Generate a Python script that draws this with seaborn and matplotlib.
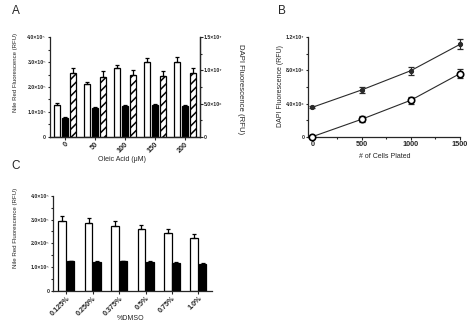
import numpy as np
import pandas as pd
import matplotlib
matplotlib.use("Agg")
import matplotlib.pyplot as plt
from matplotlib.ticker import FixedLocator, MultipleLocator
import seaborn as sns

# ---- Panel A: oleic acid titration ----
oleic_labels = ["0", "50", "100", "150", "200"]
nile_red = [1.29e5, 2.12e5, 2.77e5, 3.01e5, 3.02e5]
nile_red_sd = [0.05e5, 0.10e5, 0.13e5, 0.16e5, 0.17e5]
blank = [0.74e5, 1.16e5, 1.22e5, 1.26e5, 1.24e5]
blank_sd = [0.04e5, 0.04e5, 0.04e5, 0.04e5, 0.04e5]
dapi = [9.57e6, 9.02e6, 9.27e6, 9.10e6, 9.57e6]
dapi_sd = [0.83e6, 0.85e6, 0.83e6, 0.80e6, 0.83e6]

# ---- Panel B: DAPI signal vs cell number ----
cells_plated = [0, 500, 1000, 1500]
dapi_upper = [3.55e6, 5.64e6, 7.97e6, 11.15e6]
dapi_upper_sd = [0.12e6, 0.42e6, 0.50e6, 0.60e6]
dapi_lower = [0.0, 2.10e6, 4.40e6, 7.62e6]
dapi_lower_sd = [0.10e6, 0.35e6, 0.45e6, 0.50e6]

# ---- Panel C: DMSO tolerance ----
dmso_labels = ["0.125%", "0.250%", "0.375%", "0.5%", "0.75%", "1.0%"]
dmso_nile_red = [2.93e5, 2.84e5, 2.72e5, 2.62e5, 2.42e5, 2.21e5]
dmso_nile_red_sd = [0.22e5, 0.21e5, 0.21e5, 0.17e5, 0.18e5, 0.17e5]
dmso_blank = [1.24e5, 1.22e5, 1.24e5, 1.22e5, 1.19e5, 1.15e5]
dmso_blank_sd = [0.03e5, 0.03e5, 0.03e5, 0.03e5, 0.03e5, 0.03e5]

# axis tick labels
nr_ticks = [0, 1e5, 2e5, 3e5, 4e5]
nr_ticklabels = ["0", "1.0×10⁵", "2.0×10⁵", "3.0×10⁵", "4.0×10⁵"]
dapi_ticks = [0, 5e6, 1e7, 1.5e7]
dapi_ticklabels = ["0", "5.0×10⁶", "1.0×10⁷", "1.5×10⁷"]
cells_yticks = [0, 4e6, 8e6, 1.2e7]
cells_yticklabels = ["0", "4.0×10⁶", "8.0×10⁶", "1.2×10⁷"]
cells_xticks = [0, 500, 1000, 1500]
cells_xticklabels = ["0", "500", "1000", "1500"]

sns.set_theme(style="ticks")
plt.rcParams["font.family"] = ["Liberation Sans", "DejaVu Sans"]
plt.rcParams["hatch.linewidth"] = 1.1
plt.rcParams["axes.linewidth"] = 0.9
plt.rcParams["xtick.major.width"] = 0.8
plt.rcParams["ytick.major.width"] = 0.8
plt.rcParams["xtick.minor.width"] = 0.8
plt.rcParams["ytick.minor.width"] = 0.8
plt.rcParams["xtick.major.size"] = 1.8
plt.rcParams["ytick.major.size"] = 1.8
plt.rcParams["xtick.minor.size"] = 1.2
plt.rcParams["ytick.minor.size"] = 1.2
plt.rcParams["xtick.major.pad"] = 1.2
plt.rcParams["ytick.major.pad"] = 1.0

W, H = 474, 332
fig = plt.figure(figsize=(W / 100, H / 100), dpi=100)
fig.patch.set_facecolor("white")


def rect(left, top, right, bottom):
    return [left / W, 1 - bottom / H, (right - left) / W, (bottom - top) / H]


def ptxt(x, y, s, **kw):
    fig.text(x / W, 1 - y / H, s, **kw)


YTICK_FS = 3.7
XTICK_FS = 5.2
LABEL_FS = 5.0
EDGE = "black"

hue_order = ["Nile Red", "Blank", "DAPI"]
palette = {"Nile Red": "white", "Blank": "black", "DAPI": "white"}


def bar_groups(ax):
    return [c for c in ax.containers if len(c) > 0]


def add_up_errors(ax, container, sd):
    xs = [b.get_x() + b.get_width() / 2 for b in container]
    ys = [b.get_height() for b in container]
    ax.errorbar(xs, ys, yerr=[np.zeros(len(sd)), sd], fmt="none",
                ecolor="black", elinewidth=0.9, capsize=1.6, capthick=0.9,
                zorder=1)


def style_yaxis(ax, ticks, labels, lim, minor):
    ax.set_ylim(*lim)
    ax.yaxis.set_major_locator(FixedLocator(ticks))
    ax.set_yticklabels(labels, fontsize=YTICK_FS, fontweight="bold")
    ax.yaxis.set_minor_locator(MultipleLocator(minor))


# ================= Panel A =================
axA = fig.add_axes(rect(50, 37.3, 200, 136.7))
axA2 = axA.twinx()

dfA = pd.DataFrame({
    "conc": oleic_labels * 2,
    "value": nile_red + blank,
    "series": ["Nile Red"] * len(oleic_labels) + ["Blank"] * len(oleic_labels),
})
sns.barplot(data=dfA, x="conc", y="value", hue="series", hue_order=hue_order,
            order=oleic_labels, palette=palette, width=0.8, gap=0.18,
            dodge=True, saturation=1, edgecolor=EDGE, linewidth=0.9,
            errorbar=None, legend=False, ax=axA)

dfA2 = pd.DataFrame({"conc": oleic_labels, "value": dapi,
                     "series": ["DAPI"] * len(oleic_labels)})
sns.barplot(data=dfA2, x="conc", y="value", hue="series", hue_order=hue_order,
            order=oleic_labels, palette=palette, width=0.8, gap=0.18,
            dodge=True, saturation=1, edgecolor=EDGE, linewidth=0.9,
            errorbar=None, legend=False, ax=axA2)
for bar in axA2.patches:
    bar.set_hatch("////")

groupsA = bar_groups(axA)
add_up_errors(axA, groupsA[0], nile_red_sd)
add_up_errors(axA, groupsA[1], blank_sd)
add_up_errors(axA2, bar_groups(axA2)[0], dapi_sd)

style_yaxis(axA, nr_ticks, nr_ticklabels, (0, 4e5), 0.5e5)
style_yaxis(axA2, dapi_ticks, dapi_ticklabels, (0, 1.5e7), 2.5e6)
axA.set_xlim(-0.5, 4.5)
axA.set_xticks(range(len(oleic_labels)))
axA.set_xticklabels(oleic_labels, fontsize=XTICK_FS, fontweight="bold",
                    rotation=45, ha="right", rotation_mode="anchor")
axA.set_xlabel("")
axA.set_ylabel("")
axA2.set_ylabel("")
for a in (axA, axA2):
    a.spines["top"].set_visible(False)
axA2.spines["left"].set_visible(False)

# ================= Panel B =================
axB = fig.add_axes(rect(308.3, 37.3, 460, 136.7))
line_col = "#2a2a2a"
axB.errorbar(cells_plated, dapi_upper, yerr=dapi_upper_sd, fmt="none",
             ecolor=line_col, elinewidth=0.9, capsize=2.0, capthick=0.9,
             clip_on=False, zorder=2)
axB.errorbar(cells_plated, dapi_lower, yerr=dapi_lower_sd, fmt="none",
             ecolor=line_col, elinewidth=0.9, capsize=2.0, capthick=0.9,
             clip_on=False, zorder=2)
sns.lineplot(x=cells_plated, y=dapi_upper, ax=axB, color=line_col,
             linewidth=0.8, marker="o", markersize=3.0,
             markerfacecolor=line_col, markeredgecolor=line_col,
             clip_on=False, zorder=3)
sns.lineplot(x=cells_plated, y=dapi_lower, ax=axB, color=line_col,
             linewidth=0.8, marker="o", markersize=4.6,
             markerfacecolor="white", markeredgecolor="black",
             markeredgewidth=1.2, clip_on=False, zorder=4)
style_yaxis(axB, cells_yticks, cells_yticklabels, (0, 1.2e7), 2e6)
axB.set_xlim(-41, 1500)
axB.xaxis.set_major_locator(FixedLocator(cells_xticks))
axB.set_xticklabels(cells_xticklabels, fontsize=XTICK_FS, fontweight="bold")
axB.xaxis.set_minor_locator(MultipleLocator(250))
sns.despine(ax=axB)

# ================= Panel C =================
axC = fig.add_axes(rect(53.3, 195.7, 211.5, 291))
dfC = pd.DataFrame({
    "dmso": dmso_labels * 2,
    "value": dmso_nile_red + dmso_blank,
    "series": ["Nile Red"] * len(dmso_labels) + ["Blank"] * len(dmso_labels),
})
sns.barplot(data=dfC, x="dmso", y="value", hue="series",
            hue_order=["Nile Red", "Blank"], order=dmso_labels,
            palette=palette, width=0.64, gap=0.1, dodge=True, saturation=1,
            edgecolor=EDGE, linewidth=0.9, errorbar=None, legend=False,
            ax=axC)
groupsC = bar_groups(axC)
add_up_errors(axC, groupsC[0], dmso_nile_red_sd)
add_up_errors(axC, groupsC[1], dmso_blank_sd)
style_yaxis(axC, nr_ticks, nr_ticklabels, (0, 4e5), 0.5e5)
axC.set_xlim(-0.5, len(dmso_labels) - 0.5)
axC.set_xticks(range(len(dmso_labels)))
axC.set_xticklabels(dmso_labels, fontsize=XTICK_FS, fontweight="bold",
                    rotation=45, ha="right", rotation_mode="anchor")
axC.set_xlabel("")
axC.set_ylabel("")
sns.despine(ax=axC)

# ================= Text =================
ptxt(16, 11, "A", fontsize=8.5, ha="center", va="center")
ptxt(282, 11, "B", fontsize=8.5, ha="center", va="center")
ptxt(16, 166, "C", fontsize=8.5, ha="center", va="center")

ptxt(16, 72, "Nile Red Fluorescence (RFU)", fontsize=4.3, rotation=90,
     ha="center", va="center")
ptxt(240, 89, "DAPI Fluorescence (RFU)", fontsize=5.6, rotation=270,
     ha="center", va="center")
ptxt(122, 159.5, "Oleic Acid (μM)", fontsize=LABEL_FS, ha="center", va="center")

ptxt(281, 86, "DAPI Fluorescence (RFU)", fontsize=LABEL_FS, rotation=90,
     ha="center", va="center")
ptxt(385, 156, "# of Cells Plated", fontsize=LABEL_FS, ha="center",
     va="center")

ptxt(16, 228, "Nile Red Fluorescence (RFU)", fontsize=4.4, rotation=90,
     ha="center", va="center")
ptxt(131, 318, "%DMSO", fontsize=LABEL_FS, ha="center", va="center")

fig.savefig("out.png", dpi=100, facecolor="white")
